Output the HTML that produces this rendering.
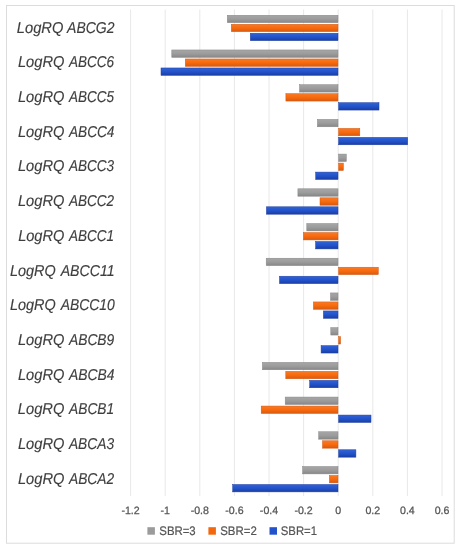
<!DOCTYPE html>
<html><head><meta charset="utf-8"><style>
html,body{margin:0;padding:0;background:#fff;}
body{width:460px;height:550px;overflow:hidden;}
svg{display:block;}
.yl{font-family:"Liberation Sans",sans-serif;font-style:italic;font-size:15.8px;fill:#3e3e3e;stroke:#3e3e3e;stroke-width:0.15px;}
text{text-rendering:geometricPrecision;}
.xl{font-family:"Liberation Sans",sans-serif;font-size:10.6px;fill:#555;stroke:#555;stroke-width:0.25px;}
.lg{font-family:"Liberation Sans",sans-serif;font-size:12.4px;fill:#555;stroke:#555;stroke-width:0.2px;}
</style></head><body>
<svg width="460" height="550" viewBox="0 0 460 550">
<defs>
<linearGradient id="gGray" x1="0" y1="0" x2="0" y2="1">
<stop offset="0" stop-color="#a6a6a6"/><stop offset="0.5" stop-color="#9c9c9c"/><stop offset="1" stop-color="#878787"/></linearGradient>
<linearGradient id="gOrange" x1="0" y1="0" x2="0" y2="1">
<stop offset="0" stop-color="#f87a2a"/><stop offset="0.5" stop-color="#f96a0a"/><stop offset="1" stop-color="#d65a14"/></linearGradient>
<linearGradient id="gBlue" x1="0" y1="0" x2="0" y2="1">
<stop offset="0" stop-color="#3262d4"/><stop offset="0.5" stop-color="#2353cc"/><stop offset="1" stop-color="#1a3ea4"/></linearGradient>
</defs>
<rect x="0" y="0" width="460" height="550" fill="#fff"/>
<rect x="6.5" y="5.5" width="447.7" height="537.7" fill="none" stroke="#dcdcdc" stroke-width="1"/>

<line x1="130.6" y1="9.5" x2="130.6" y2="496.0" stroke="#e8e8e8" stroke-width="1"/>
<line x1="165.2" y1="9.5" x2="165.2" y2="496.0" stroke="#e8e8e8" stroke-width="1"/>
<line x1="199.8" y1="9.5" x2="199.8" y2="496.0" stroke="#e8e8e8" stroke-width="1"/>
<line x1="234.4" y1="9.5" x2="234.4" y2="496.0" stroke="#e8e8e8" stroke-width="1"/>
<line x1="269.0" y1="9.5" x2="269.0" y2="496.0" stroke="#e8e8e8" stroke-width="1"/>
<line x1="303.6" y1="9.5" x2="303.6" y2="496.0" stroke="#e8e8e8" stroke-width="1"/>
<line x1="338.2" y1="9.5" x2="338.2" y2="496.0" stroke="#e8e8e8" stroke-width="1"/>
<line x1="372.8" y1="9.5" x2="372.8" y2="496.0" stroke="#e8e8e8" stroke-width="1"/>
<line x1="407.4" y1="9.5" x2="407.4" y2="496.0" stroke="#e8e8e8" stroke-width="1"/>
<line x1="442.0" y1="9.5" x2="442.0" y2="496.0" stroke="#e8e8e8" stroke-width="1"/>
<rect x="227.3" y="15.25" width="110.7" height="7.4" fill="url(#gGray)" stroke="#858585" stroke-width="0.5"/>
<rect x="231.3" y="24.25" width="106.7" height="7.4" fill="url(#gOrange)" stroke="#cf5a14" stroke-width="0.5"/>
<rect x="250.3" y="33.25" width="87.7" height="7.4" fill="url(#gBlue)" stroke="#1e3f9e" stroke-width="0.5"/>
<rect x="171.8" y="49.96" width="166.2" height="7.4" fill="url(#gGray)" stroke="#858585" stroke-width="0.5"/>
<rect x="185.3" y="58.96" width="152.7" height="7.4" fill="url(#gOrange)" stroke="#cf5a14" stroke-width="0.5"/>
<rect x="161.0" y="67.96" width="177.0" height="7.4" fill="url(#gBlue)" stroke="#1e3f9e" stroke-width="0.5"/>
<rect x="299.5" y="84.67" width="38.5" height="7.4" fill="url(#gGray)" stroke="#858585" stroke-width="0.5"/>
<rect x="285.9" y="93.67" width="52.1" height="7.4" fill="url(#gOrange)" stroke="#cf5a14" stroke-width="0.5"/>
<rect x="338.6" y="102.67" width="40.4" height="7.4" fill="url(#gBlue)" stroke="#1e3f9e" stroke-width="0.5"/>
<rect x="317.4" y="119.38" width="20.6" height="7.4" fill="url(#gGray)" stroke="#858585" stroke-width="0.5"/>
<rect x="338.6" y="128.38" width="21.2" height="7.4" fill="url(#gOrange)" stroke="#cf5a14" stroke-width="0.5"/>
<rect x="338.6" y="137.38" width="69.1" height="7.4" fill="url(#gBlue)" stroke="#1e3f9e" stroke-width="0.5"/>
<rect x="338.6" y="154.09" width="7.7" height="7.4" fill="url(#gGray)" stroke="#858585" stroke-width="0.5"/>
<rect x="338.6" y="163.09" width="4.8" height="7.4" fill="url(#gOrange)" stroke="#cf5a14" stroke-width="0.5"/>
<rect x="315.7" y="172.09" width="22.3" height="7.4" fill="url(#gBlue)" stroke="#1e3f9e" stroke-width="0.5"/>
<rect x="297.9" y="188.80" width="40.1" height="7.4" fill="url(#gGray)" stroke="#858585" stroke-width="0.5"/>
<rect x="320.0" y="197.80" width="18.0" height="7.4" fill="url(#gOrange)" stroke="#cf5a14" stroke-width="0.5"/>
<rect x="266.4" y="206.80" width="71.6" height="7.4" fill="url(#gBlue)" stroke="#1e3f9e" stroke-width="0.5"/>
<rect x="306.8" y="223.51" width="31.2" height="7.4" fill="url(#gGray)" stroke="#858585" stroke-width="0.5"/>
<rect x="303.4" y="232.51" width="34.6" height="7.4" fill="url(#gOrange)" stroke="#cf5a14" stroke-width="0.5"/>
<rect x="315.6" y="241.51" width="22.4" height="7.4" fill="url(#gBlue)" stroke="#1e3f9e" stroke-width="0.5"/>
<rect x="266.2" y="258.22" width="71.8" height="7.4" fill="url(#gGray)" stroke="#858585" stroke-width="0.5"/>
<rect x="338.6" y="267.22" width="39.7" height="7.4" fill="url(#gOrange)" stroke="#cf5a14" stroke-width="0.5"/>
<rect x="279.5" y="276.22" width="58.5" height="7.4" fill="url(#gBlue)" stroke="#1e3f9e" stroke-width="0.5"/>
<rect x="330.5" y="292.93" width="7.5" height="7.4" fill="url(#gGray)" stroke="#858585" stroke-width="0.5"/>
<rect x="313.4" y="301.93" width="24.6" height="7.4" fill="url(#gOrange)" stroke="#cf5a14" stroke-width="0.5"/>
<rect x="323.4" y="310.93" width="14.6" height="7.4" fill="url(#gBlue)" stroke="#1e3f9e" stroke-width="0.5"/>
<rect x="330.8" y="327.64" width="7.2" height="7.4" fill="url(#gGray)" stroke="#858585" stroke-width="0.5"/>
<rect x="338.6" y="336.64" width="2.0" height="7.4" fill="url(#gOrange)" stroke="#cf5a14" stroke-width="0.5"/>
<rect x="321.1" y="345.64" width="16.9" height="7.4" fill="url(#gBlue)" stroke="#1e3f9e" stroke-width="0.5"/>
<rect x="262.4" y="362.35" width="75.6" height="7.4" fill="url(#gGray)" stroke="#858585" stroke-width="0.5"/>
<rect x="285.8" y="371.35" width="52.2" height="7.4" fill="url(#gOrange)" stroke="#cf5a14" stroke-width="0.5"/>
<rect x="309.7" y="380.35" width="28.3" height="7.4" fill="url(#gBlue)" stroke="#1e3f9e" stroke-width="0.5"/>
<rect x="285.2" y="397.06" width="52.8" height="7.4" fill="url(#gGray)" stroke="#858585" stroke-width="0.5"/>
<rect x="261.2" y="406.06" width="76.8" height="7.4" fill="url(#gOrange)" stroke="#cf5a14" stroke-width="0.5"/>
<rect x="338.6" y="415.06" width="32.4" height="7.4" fill="url(#gBlue)" stroke="#1e3f9e" stroke-width="0.5"/>
<rect x="318.7" y="431.77" width="19.3" height="7.4" fill="url(#gGray)" stroke="#858585" stroke-width="0.5"/>
<rect x="322.5" y="440.77" width="15.5" height="7.4" fill="url(#gOrange)" stroke="#cf5a14" stroke-width="0.5"/>
<rect x="338.6" y="449.77" width="17.3" height="7.4" fill="url(#gBlue)" stroke="#1e3f9e" stroke-width="0.5"/>
<rect x="302.6" y="466.48" width="35.4" height="7.4" fill="url(#gGray)" stroke="#858585" stroke-width="0.5"/>
<rect x="329.4" y="475.48" width="8.6" height="7.4" fill="url(#gOrange)" stroke="#cf5a14" stroke-width="0.5"/>
<rect x="232.7" y="484.48" width="105.3" height="7.4" fill="url(#gBlue)" stroke="#1e3f9e" stroke-width="0.5"/>
<text class="yl" x="16.83" y="32.61" textLength="46.59" lengthAdjust="spacingAndGlyphs">LogRQ</text>
<text class="yl" x="67.07" y="32.61" textLength="47.50" lengthAdjust="spacingAndGlyphs">ABCG2</text>
<text class="yl" x="17.94" y="67.31" textLength="46.49" lengthAdjust="spacingAndGlyphs">LogRQ</text>
<text class="yl" x="68.94" y="67.31" textLength="45.11" lengthAdjust="spacingAndGlyphs">ABCC6</text>
<text class="yl" x="17.94" y="102.03" textLength="46.49" lengthAdjust="spacingAndGlyphs">LogRQ</text>
<text class="yl" x="68.94" y="102.03" textLength="45.01" lengthAdjust="spacingAndGlyphs">ABCC5</text>
<text class="yl" x="17.94" y="136.73" textLength="46.49" lengthAdjust="spacingAndGlyphs">LogRQ</text>
<text class="yl" x="68.95" y="136.73" textLength="45.54" lengthAdjust="spacingAndGlyphs">ABCC4</text>
<text class="yl" x="17.94" y="171.44" textLength="46.49" lengthAdjust="spacingAndGlyphs">LogRQ</text>
<text class="yl" x="68.94" y="171.44" textLength="45.22" lengthAdjust="spacingAndGlyphs">ABCC3</text>
<text class="yl" x="17.94" y="206.16" textLength="46.49" lengthAdjust="spacingAndGlyphs">LogRQ</text>
<text class="yl" x="68.94" y="206.16" textLength="45.22" lengthAdjust="spacingAndGlyphs">ABCC2</text>
<text class="yl" x="18.14" y="240.86" textLength="46.28" lengthAdjust="spacingAndGlyphs">LogRQ</text>
<text class="yl" x="69.04" y="240.86" textLength="45.08" lengthAdjust="spacingAndGlyphs">ABCC1</text>
<text class="yl" x="9.94" y="275.57" textLength="45.87" lengthAdjust="spacingAndGlyphs">LogRQ</text>
<text class="yl" x="60.67" y="275.57" textLength="53.99" lengthAdjust="spacingAndGlyphs">ABCC11</text>
<text class="yl" x="9.94" y="310.29" textLength="45.87" lengthAdjust="spacingAndGlyphs">LogRQ</text>
<text class="yl" x="60.66" y="310.29" textLength="54.22" lengthAdjust="spacingAndGlyphs">ABCC10</text>
<text class="yl" x="17.94" y="345.00" textLength="46.49" lengthAdjust="spacingAndGlyphs">LogRQ</text>
<text class="yl" x="68.96" y="345.00" textLength="45.32" lengthAdjust="spacingAndGlyphs">ABCB9</text>
<text class="yl" x="17.94" y="379.71" textLength="46.49" lengthAdjust="spacingAndGlyphs">LogRQ</text>
<text class="yl" x="68.96" y="379.71" textLength="45.54" lengthAdjust="spacingAndGlyphs">ABCB4</text>
<text class="yl" x="17.83" y="414.42" textLength="46.59" lengthAdjust="spacingAndGlyphs">LogRQ</text>
<text class="yl" x="69.05" y="414.42" textLength="45.09" lengthAdjust="spacingAndGlyphs">ABCB1</text>
<text class="yl" x="17.94" y="449.12" textLength="46.49" lengthAdjust="spacingAndGlyphs">LogRQ</text>
<text class="yl" x="68.95" y="449.12" textLength="45.10" lengthAdjust="spacingAndGlyphs">ABCA3</text>
<text class="yl" x="17.94" y="483.84" textLength="46.49" lengthAdjust="spacingAndGlyphs">LogRQ</text>
<text class="yl" x="68.95" y="483.84" textLength="45.21" lengthAdjust="spacingAndGlyphs">ABCA2</text>
<text class="xl" x="130.6" y="514" text-anchor="middle">-1.2</text>
<text class="xl" x="165.2" y="514" text-anchor="middle">-1</text>
<text class="xl" x="199.8" y="514" text-anchor="middle">-0.8</text>
<text class="xl" x="234.4" y="514" text-anchor="middle">-0.6</text>
<text class="xl" x="269.0" y="514" text-anchor="middle">-0.4</text>
<text class="xl" x="303.6" y="514" text-anchor="middle">-0.2</text>
<text class="xl" x="338.2" y="514" text-anchor="middle">0</text>
<text class="xl" x="372.8" y="514" text-anchor="middle">0.2</text>
<text class="xl" x="407.4" y="514" text-anchor="middle">0.4</text>
<text class="xl" x="442.0" y="514" text-anchor="middle">0.6</text>
<rect x="147.4" y="527.2" width="7.5" height="7.5" fill="#9b9b9b"/>
<text class="lg" x="159.3" y="534.5" textLength="36.4" lengthAdjust="spacingAndGlyphs">SBR=3</text>
<rect x="208.4" y="527.2" width="7.5" height="7.5" fill="#f3680c"/>
<text class="lg" x="220.2" y="534.5" textLength="36.6" lengthAdjust="spacingAndGlyphs">SBR=2</text>
<rect x="269.5" y="527.2" width="7.5" height="7.5" fill="#2353cc"/>
<text class="lg" x="280.8" y="534.5" textLength="36.2" lengthAdjust="spacingAndGlyphs">SBR=1</text>
</svg>
</body></html>
